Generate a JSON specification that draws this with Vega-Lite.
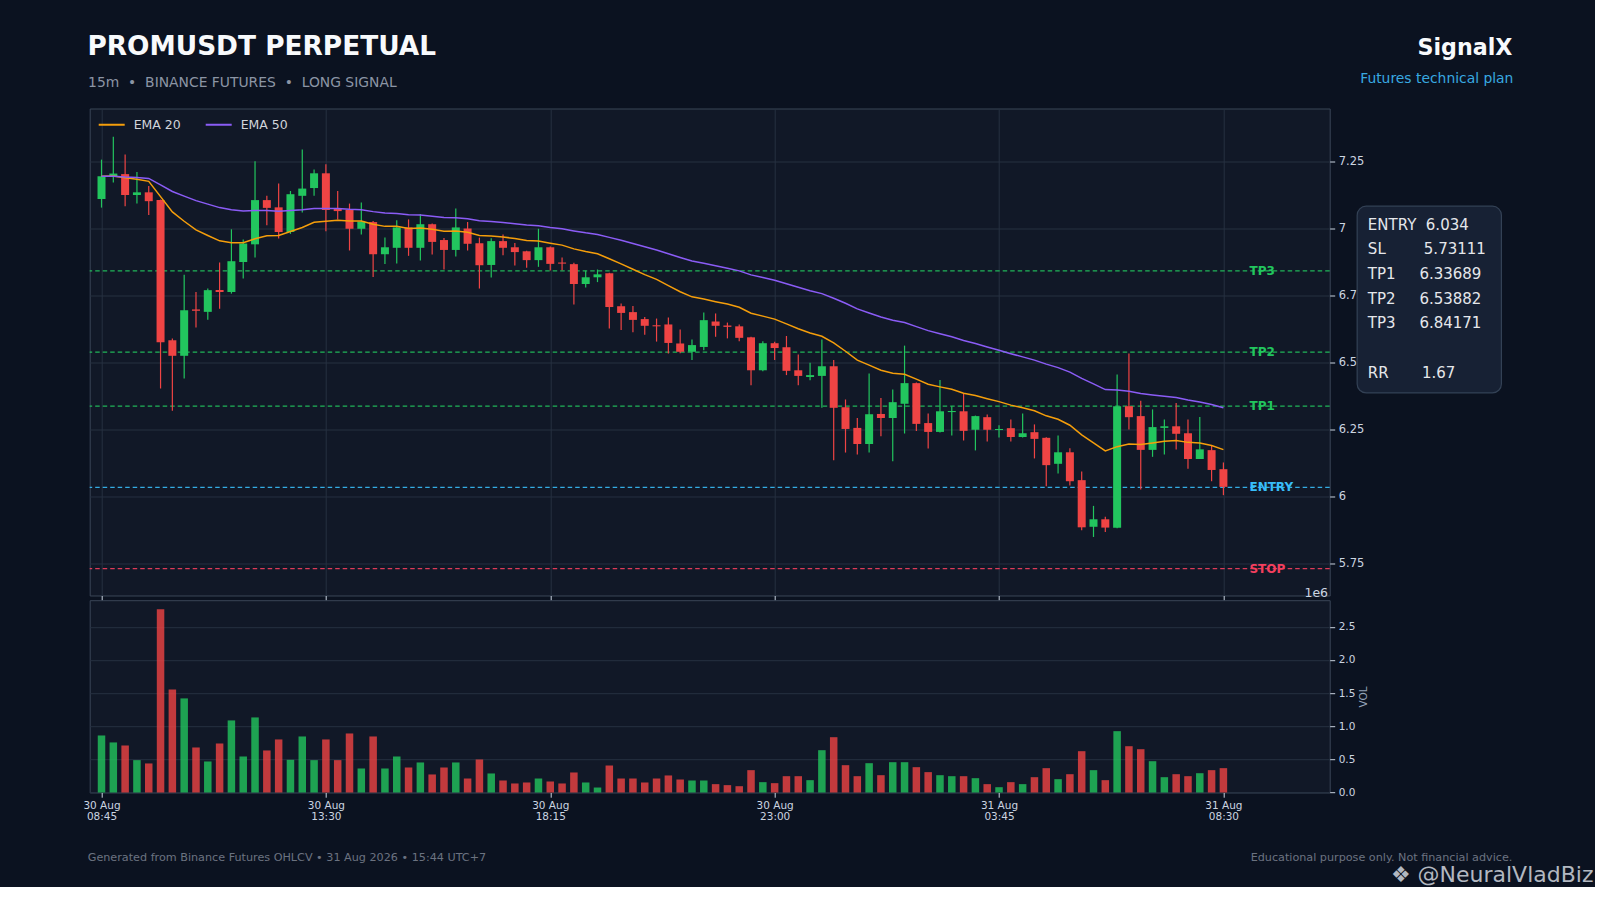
{
"$schema": "https://vega.github.io/schema/vega-lite/v6.json",
"background": "#0b1220",
"padding": {"left": 81.7, "top": 32.5, "right": 0, "bottom": 0},
"bounds": "flush",
"spacing": 4.7,
"resolve": {"scale": {"x": "independent", "y": "independent"}},
"config": {
  "font": "DejaVu Sans",
  "view": {"fill": "#111827", "stroke": "#3b4657", "strokeWidth": 1},
  "axis": {"domain": false, "gridColor": "#263041", "gridWidth": 1, "tickColor": "#cbd5e1", "labelColor": "#cbd5e1", "labelFont": "DejaVu Sans", "titleFont": "DejaVu Sans", "labelOverlap": false}
},
"datasets": {
"k": [
{"t":"2026-08-30T08:45:00","o":7.110,"h":7.257,"l":7.078,"c":7.195,"v":860000,"e20":7.195,"e50":7.195},
{"t":"2026-08-30T09:00:00","o":7.193,"h":7.342,"l":7.172,"c":7.205,"v":755000,"e20":7.196,"e50":7.195},
{"t":"2026-08-30T09:15:00","o":7.203,"h":7.276,"l":7.083,"c":7.125,"v":709000,"e20":7.189,"e50":7.192},
{"t":"2026-08-30T09:30:00","o":7.125,"h":7.211,"l":7.093,"c":7.135,"v":488000,"e20":7.184,"e50":7.190},
{"t":"2026-08-30T09:45:00","o":7.135,"h":7.159,"l":7.050,"c":7.102,"v":438000,"e20":7.176,"e50":7.187},
{"t":"2026-08-30T10:00:00","o":7.106,"h":7.108,"l":6.403,"c":6.576,"v":2762000,"e20":7.119,"e50":7.163},
{"t":"2026-08-30T10:15:00","o":6.583,"h":6.590,"l":6.320,"c":6.525,"v":1554000,"e20":7.062,"e50":7.138},
{"t":"2026-08-30T10:30:00","o":6.525,"h":6.827,"l":6.440,"c":6.695,"v":1419000,"e20":7.027,"e50":7.121},
{"t":"2026-08-30T10:45:00","o":6.698,"h":6.763,"l":6.631,"c":6.693,"v":679000,"e20":6.995,"e50":7.104},
{"t":"2026-08-30T11:00:00","o":6.689,"h":6.776,"l":6.660,"c":6.770,"v":468000,"e20":6.974,"e50":7.091},
{"t":"2026-08-30T11:15:00","o":6.771,"h":6.873,"l":6.701,"c":6.763,"v":739000,"e20":6.954,"e50":7.078},
{"t":"2026-08-30T11:30:00","o":6.763,"h":6.997,"l":6.757,"c":6.878,"v":1087000,"e20":6.947,"e50":7.070},
{"t":"2026-08-30T11:45:00","o":6.875,"h":6.959,"l":6.813,"c":6.944,"v":543000,"e20":6.947,"e50":7.065},
{"t":"2026-08-30T12:00:00","o":6.941,"h":7.251,"l":6.892,"c":7.106,"v":1132000,"e20":6.962,"e50":7.067},
{"t":"2026-08-30T12:15:00","o":7.106,"h":7.122,"l":7.012,"c":7.077,"v":634000,"e20":6.973,"e50":7.067},
{"t":"2026-08-30T12:30:00","o":7.079,"h":7.168,"l":6.963,"c":6.987,"v":800000,"e20":6.974,"e50":7.064},
{"t":"2026-08-30T12:45:00","o":6.987,"h":7.140,"l":6.980,"c":7.128,"v":493000,"e20":6.989,"e50":7.067},
{"t":"2026-08-30T13:00:00","o":7.122,"h":7.295,"l":7.060,"c":7.149,"v":845000,"e20":7.004,"e50":7.070},
{"t":"2026-08-30T13:15:00","o":7.151,"h":7.220,"l":7.122,"c":7.206,"v":488000,"e20":7.023,"e50":7.075},
{"t":"2026-08-30T13:30:00","o":7.206,"h":7.240,"l":6.990,"c":7.069,"v":800000,"e20":7.027,"e50":7.075},
{"t":"2026-08-30T13:45:00","o":7.076,"h":7.140,"l":7.034,"c":7.065,"v":488000,"e20":7.031,"e50":7.075},
{"t":"2026-08-30T14:00:00","o":7.069,"h":7.093,"l":6.918,"c":6.999,"v":890000,"e20":7.028,"e50":7.072},
{"t":"2026-08-30T14:15:00","o":6.999,"h":7.097,"l":6.978,"c":7.026,"v":362000,"e20":7.028,"e50":7.070},
{"t":"2026-08-30T14:30:00","o":7.024,"h":7.028,"l":6.819,"c":6.904,"v":845000,"e20":7.016,"e50":7.063},
{"t":"2026-08-30T14:45:00","o":6.904,"h":6.966,"l":6.868,"c":6.930,"v":362000,"e20":7.008,"e50":7.058},
{"t":"2026-08-30T15:00:00","o":6.928,"h":7.031,"l":6.869,"c":7.004,"v":543000,"e20":7.008,"e50":7.056},
{"t":"2026-08-30T15:15:00","o":7.004,"h":7.034,"l":6.898,"c":6.928,"v":377000,"e20":7.000,"e50":7.051},
{"t":"2026-08-30T15:30:00","o":6.928,"h":7.054,"l":6.881,"c":7.016,"v":453000,"e20":7.002,"e50":7.050},
{"t":"2026-08-30T15:45:00","o":7.016,"h":7.019,"l":6.903,"c":6.950,"v":272000,"e20":6.997,"e50":7.046},
{"t":"2026-08-30T16:00:00","o":6.957,"h":6.965,"l":6.847,"c":6.920,"v":377000,"e20":6.990,"e50":7.041},
{"t":"2026-08-30T16:15:00","o":6.920,"h":7.075,"l":6.896,"c":7.004,"v":453000,"e20":6.991,"e50":7.040},
{"t":"2026-08-30T16:30:00","o":7.000,"h":7.024,"l":6.918,"c":6.943,"v":211000,"e20":6.986,"e50":7.036},
{"t":"2026-08-30T16:45:00","o":6.945,"h":6.966,"l":6.776,"c":6.863,"v":498000,"e20":6.974,"e50":7.029},
{"t":"2026-08-30T17:00:00","o":6.864,"h":6.964,"l":6.817,"c":6.953,"v":287000,"e20":6.972,"e50":7.026},
{"t":"2026-08-30T17:15:00","o":6.953,"h":6.978,"l":6.900,"c":6.928,"v":181000,"e20":6.968,"e50":7.022},
{"t":"2026-08-30T17:30:00","o":6.930,"h":6.946,"l":6.862,"c":6.912,"v":136000,"e20":6.963,"e50":7.018},
{"t":"2026-08-30T17:45:00","o":6.915,"h":6.917,"l":6.854,"c":6.882,"v":151000,"e20":6.955,"e50":7.013},
{"t":"2026-08-30T18:00:00","o":6.882,"h":6.999,"l":6.857,"c":6.930,"v":211000,"e20":6.953,"e50":7.010},
{"t":"2026-08-30T18:15:00","o":6.930,"h":6.933,"l":6.843,"c":6.868,"v":166000,"e20":6.945,"e50":7.004},
{"t":"2026-08-30T18:30:00","o":6.873,"h":6.892,"l":6.844,"c":6.869,"v":136000,"e20":6.938,"e50":6.999},
{"t":"2026-08-30T18:45:00","o":6.867,"h":6.872,"l":6.716,"c":6.793,"v":302000,"e20":6.924,"e50":6.991},
{"t":"2026-08-30T19:00:00","o":6.793,"h":6.842,"l":6.780,"c":6.818,"v":151000,"e20":6.914,"e50":6.984},
{"t":"2026-08-30T19:15:00","o":6.818,"h":6.847,"l":6.800,"c":6.829,"v":75000,"e20":6.906,"e50":6.978},
{"t":"2026-08-30T19:30:00","o":6.833,"h":6.835,"l":6.627,"c":6.707,"v":407000,"e20":6.887,"e50":6.967},
{"t":"2026-08-30T19:45:00","o":6.710,"h":6.720,"l":6.621,"c":6.685,"v":211000,"e20":6.868,"e50":6.956},
{"t":"2026-08-30T20:00:00","o":6.688,"h":6.711,"l":6.613,"c":6.659,"v":211000,"e20":6.848,"e50":6.944},
{"t":"2026-08-30T20:15:00","o":6.662,"h":6.670,"l":6.604,"c":6.637,"v":151000,"e20":6.828,"e50":6.932},
{"t":"2026-08-30T20:30:00","o":6.639,"h":6.664,"l":6.578,"c":6.635,"v":211000,"e20":6.810,"e50":6.920},
{"t":"2026-08-30T20:45:00","o":6.642,"h":6.668,"l":6.534,"c":6.573,"v":257000,"e20":6.787,"e50":6.906},
{"t":"2026-08-30T21:00:00","o":6.571,"h":6.623,"l":6.535,"c":6.540,"v":196000,"e20":6.764,"e50":6.892},
{"t":"2026-08-30T21:15:00","o":6.540,"h":6.586,"l":6.509,"c":6.565,"v":181000,"e20":6.745,"e50":6.879},
{"t":"2026-08-30T21:30:00","o":6.558,"h":6.687,"l":6.546,"c":6.658,"v":181000,"e20":6.737,"e50":6.870},
{"t":"2026-08-30T21:45:00","o":6.653,"h":6.683,"l":6.596,"c":6.637,"v":126000,"e20":6.727,"e50":6.861},
{"t":"2026-08-30T22:00:00","o":6.638,"h":6.649,"l":6.590,"c":6.633,"v":111000,"e20":6.718,"e50":6.852},
{"t":"2026-08-30T22:15:00","o":6.635,"h":6.642,"l":6.579,"c":6.592,"v":95000,"e20":6.706,"e50":6.842},
{"t":"2026-08-30T22:30:00","o":6.594,"h":6.596,"l":6.415,"c":6.471,"v":337000,"e20":6.684,"e50":6.827},
{"t":"2026-08-30T22:45:00","o":6.471,"h":6.579,"l":6.467,"c":6.572,"v":156000,"e20":6.673,"e50":6.817},
{"t":"2026-08-30T23:00:00","o":6.572,"h":6.577,"l":6.509,"c":6.554,"v":141000,"e20":6.662,"e50":6.807},
{"t":"2026-08-30T23:15:00","o":6.557,"h":6.599,"l":6.453,"c":6.469,"v":246000,"e20":6.644,"e50":6.794},
{"t":"2026-08-30T23:30:00","o":6.471,"h":6.530,"l":6.415,"c":6.450,"v":246000,"e20":6.626,"e50":6.781},
{"t":"2026-08-30T23:45:00","o":6.446,"h":6.499,"l":6.434,"c":6.453,"v":186000,"e20":6.610,"e50":6.768},
{"t":"2026-08-31T00:00:00","o":6.450,"h":6.586,"l":6.331,"c":6.486,"v":638000,"e20":6.598,"e50":6.757},
{"t":"2026-08-31T00:15:00","o":6.486,"h":6.509,"l":6.135,"c":6.331,"v":834000,"e20":6.573,"e50":6.740},
{"t":"2026-08-31T00:30:00","o":6.333,"h":6.362,"l":6.164,"c":6.252,"v":412000,"e20":6.542,"e50":6.721},
{"t":"2026-08-31T00:45:00","o":6.256,"h":6.293,"l":6.157,"c":6.196,"v":246000,"e20":6.509,"e50":6.700},
{"t":"2026-08-31T01:00:00","o":6.196,"h":6.459,"l":6.164,"c":6.307,"v":442000,"e20":6.490,"e50":6.685},
{"t":"2026-08-31T01:15:00","o":6.308,"h":6.368,"l":6.225,"c":6.293,"v":261000,"e20":6.471,"e50":6.670},
{"t":"2026-08-31T01:30:00","o":6.293,"h":6.399,"l":6.132,"c":6.352,"v":457000,"e20":6.460,"e50":6.658},
{"t":"2026-08-31T01:45:00","o":6.346,"h":6.563,"l":6.235,"c":6.423,"v":457000,"e20":6.456,"e50":6.649},
{"t":"2026-08-31T02:00:00","o":6.423,"h":6.425,"l":6.244,"c":6.271,"v":382000,"e20":6.438,"e50":6.634},
{"t":"2026-08-31T02:15:00","o":6.274,"h":6.310,"l":6.179,"c":6.241,"v":307000,"e20":6.419,"e50":6.619},
{"t":"2026-08-31T02:30:00","o":6.241,"h":6.435,"l":6.239,"c":6.318,"v":261000,"e20":6.409,"e50":6.607},
{"t":"2026-08-31T02:45:00","o":6.315,"h":6.337,"l":6.228,"c":6.319,"v":246000,"e20":6.400,"e50":6.596},
{"t":"2026-08-31T03:00:00","o":6.318,"h":6.384,"l":6.209,"c":6.245,"v":246000,"e20":6.385,"e50":6.582},
{"t":"2026-08-31T03:15:00","o":6.249,"h":6.302,"l":6.172,"c":6.300,"v":216000,"e20":6.377,"e50":6.571},
{"t":"2026-08-31T03:30:00","o":6.296,"h":6.306,"l":6.205,"c":6.249,"v":126000,"e20":6.365,"e50":6.558},
{"t":"2026-08-31T03:45:00","o":6.248,"h":6.266,"l":6.220,"c":6.252,"v":80000,"e20":6.354,"e50":6.546},
{"t":"2026-08-31T04:00:00","o":6.255,"h":6.287,"l":6.205,"c":6.222,"v":156000,"e20":6.341,"e50":6.533},
{"t":"2026-08-31T04:15:00","o":6.222,"h":6.310,"l":6.220,"c":6.236,"v":126000,"e20":6.331,"e50":6.521},
{"t":"2026-08-31T04:30:00","o":6.240,"h":6.269,"l":6.142,"c":6.215,"v":231000,"e20":6.320,"e50":6.509},
{"t":"2026-08-31T04:45:00","o":6.219,"h":6.221,"l":6.038,"c":6.117,"v":367000,"e20":6.301,"e50":6.494},
{"t":"2026-08-31T05:00:00","o":6.122,"h":6.228,"l":6.086,"c":6.165,"v":201000,"e20":6.288,"e50":6.481},
{"t":"2026-08-31T05:15:00","o":6.165,"h":6.180,"l":6.041,"c":6.057,"v":276000,"e20":6.266,"e50":6.464},
{"t":"2026-08-31T05:30:00","o":6.061,"h":6.093,"l":5.874,"c":5.885,"v":623000,"e20":6.230,"e50":6.441},
{"t":"2026-08-31T05:45:00","o":5.887,"h":5.965,"l":5.849,"c":5.915,"v":337000,"e20":6.200,"e50":6.420},
{"t":"2026-08-31T06:00:00","o":5.915,"h":5.924,"l":5.868,"c":5.884,"v":186000,"e20":6.170,"e50":6.399},
{"t":"2026-08-31T06:15:00","o":5.883,"h":6.455,"l":5.882,"c":6.337,"v":925000,"e20":6.186,"e50":6.397},
{"t":"2026-08-31T06:30:00","o":6.337,"h":6.534,"l":6.250,"c":6.296,"v":698000,"e20":6.196,"e50":6.393},
{"t":"2026-08-31T06:45:00","o":6.300,"h":6.357,"l":6.026,"c":6.174,"v":653000,"e20":6.194,"e50":6.384},
{"t":"2026-08-31T07:00:00","o":6.174,"h":6.325,"l":6.148,"c":6.259,"v":472000,"e20":6.200,"e50":6.379},
{"t":"2026-08-31T07:15:00","o":6.256,"h":6.287,"l":6.157,"c":6.262,"v":231000,"e20":6.206,"e50":6.374},
{"t":"2026-08-31T07:30:00","o":6.262,"h":6.349,"l":6.175,"c":6.234,"v":276000,"e20":6.209,"e50":6.369},
{"t":"2026-08-31T07:45:00","o":6.236,"h":6.287,"l":6.104,"c":6.140,"v":246000,"e20":6.202,"e50":6.360},
{"t":"2026-08-31T08:00:00","o":6.140,"h":6.297,"l":6.140,"c":6.176,"v":291000,"e20":6.200,"e50":6.353},
{"t":"2026-08-31T08:15:00","o":6.173,"h":6.191,"l":6.057,"c":6.099,"v":337000,"e20":6.190,"e50":6.343},
{"t":"2026-08-31T08:30:00","o":6.102,"h":6.127,"l":6.005,"c":6.036,"v":367000,"e20":6.175,"e50":6.331}
],
"lv": [
{"name":"TP3","p":6.84171},
{"name":"TP2","p":6.53882},
{"name":"TP1","p":6.33689},
{"name":"ENTRY","p":6.034},
{"name":"STOP","p":5.73111}
]
},
"vconcat": [
{
"width": 1240, "height": 487,
"layer": [
{
"data": {"name": "lv"},
"mark": {"type": "rule", "strokeDash": [4.5, 3], "strokeWidth": 1.3, "opacity": 0.9},
"encoding": {
 "y": {"field": "p", "type": "quantitative", "title": null,
   "scale": {"domain": [5.6306, 7.4478], "nice": false, "zero": false},
   "axis": {"orient": "right", "values": [5.75, 6, 6.25, 6.5, 6.75, 7, 7.25], "format": ".2~f", "labelFontSize": 11.5, "tickSize": 5, "labelPadding": 3.5, "grid": true, "title": null}},
 "stroke": {"field": "name", "type": "nominal", "legend": null,
   "scale": {"domain": ["TP1","TP2","TP3","ENTRY","STOP"], "range": ["#22c55e","#22c55e","#22c55e","#38bdf8","#f43f5e"]}}
}
},
{
"data": {"name": "k"},
"mark": {"type": "rule", "strokeWidth": 1.2},
"encoding": {
 "x": {"field": "t", "type": "temporal", "title": null,
   "scale": {"domain": [{"year":2026,"month":8,"date":30,"hours":8,"minutes":30}, {"year":2026,"month":8,"date":31,"hours":10,"minutes":45}], "padding": 0},
   "axis": {"values": [{"year":2026,"month":8,"date":30,"hours":8,"minutes":45},{"year":2026,"month":8,"date":30,"hours":13,"minutes":30},{"year":2026,"month":8,"date":30,"hours":18,"minutes":15},{"year":2026,"month":8,"date":30,"hours":23,"minutes":0},{"year":2026,"month":8,"date":31,"hours":3,"minutes":45},{"year":2026,"month":8,"date":31,"hours":8,"minutes":30}], "labels": false, "ticks": true, "tickSize": 4.7, "grid": true, "title": null}},
 "y": {"field": "l", "type": "quantitative", "title": null, "scale": {"domain": [5.6306, 7.4478], "nice": false, "zero": false}},
 "y2": {"field": "h"},
 "color": {"condition": {"test": "datum.c >= datum.o", "value": "#22c55e"}, "value": "#ef4444"}
}
},
{
"data": {"name": "k"},
"mark": {"type": "bar", "width": 8},
"encoding": {
 "x": {"field": "t", "type": "temporal", "title": null,
   "scale": {"domain": [{"year":2026,"month":8,"date":30,"hours":8,"minutes":30}, {"year":2026,"month":8,"date":31,"hours":10,"minutes":45}], "padding": 0}},
 "y": {"field": "o", "type": "quantitative", "title": null, "scale": {"domain": [5.6306, 7.4478], "nice": false, "zero": false}},
 "y2": {"field": "c"},
 "color": {"condition": {"test": "datum.c >= datum.o", "value": "#22c55e"}, "value": "#ef4444"}
}
},
{
"data": {"name": "k"},
"mark": {"type": "line", "strokeWidth": 1.5},
"encoding": {
 "x": {"field": "t", "type": "temporal", "title": null,
   "scale": {"domain": [{"year":2026,"month":8,"date":30,"hours":8,"minutes":30}, {"year":2026,"month":8,"date":31,"hours":10,"minutes":45}], "padding": 0}},
 "y": {"field": "e20", "type": "quantitative", "title": null, "scale": {"domain": [5.6306, 7.4478], "nice": false, "zero": false}},
 "color": {"datum": "EMA 20", "type": "nominal",
   "scale": {"domain": ["EMA 20", "EMA 50"], "range": ["#f59e0b", "#8b5cf6"]},
   "legend": {"orient": "none", "legendX": 8, "legendY": 2, "direction": "horizontal", "title": null, "symbolType": "stroke", "symbolSize": 676, "symbolStrokeWidth": 2, "labelFontSize": 12.5, "labelColor": "#d1d5db", "labelOffset": 8, "columnPadding": 20, "padding": 0}}
}
},
{
"data": {"name": "k"},
"mark": {"type": "line", "strokeWidth": 1.5},
"encoding": {
 "x": {"field": "t", "type": "temporal", "title": null,
   "scale": {"domain": [{"year":2026,"month":8,"date":30,"hours":8,"minutes":30}, {"year":2026,"month":8,"date":31,"hours":10,"minutes":45}], "padding": 0}},
 "y": {"field": "e50", "type": "quantitative", "title": null, "scale": {"domain": [5.6306, 7.4478], "nice": false, "zero": false}},
 "color": {"datum": "EMA 50", "type": "nominal"}
}
},
{
"data": {"name": "lv"},
"mark": {"type": "text", "fontWeight": "bold", "fontSize": 12, "align": "left", "baseline": "middle"},
"encoding": {
 "x": {"datum": {"year":2026,"month":8,"date":31,"hours":9,"minutes":3,"seconds":6}, "type": "temporal", "title": null},
 "y": {"field": "p", "type": "quantitative", "title": null},
 "text": {"field": "name"},
 "fill": {"field": "name", "type": "nominal", "legend": null,
   "scale": {"domain": ["TP1","TP2","TP3","ENTRY","STOP"], "range": ["#22c55e","#22c55e","#22c55e","#38bdf8","#f43f5e"]}}
}
},
{
"data": {"values": [{"x": "2026-08-31T11:19:54", "x2": "2026-08-31T14:23:06", "y": 7.0832, "y2": 6.3866}]},
"mark": {"type": "rect", "cornerRadius": 9, "fill": "#172134", "stroke": "#334155", "strokeWidth": 1.2},
"encoding": {
 "x": {"field": "x", "type": "temporal", "title": null}, "x2": {"field": "x2"},
 "y": {"field": "y", "type": "quantitative", "title": null}, "y2": {"field": "y2"}
}
},
{
"data": {"values": [{"x": "2026-08-31T11:33:30", "y": 7.041, "txt": "ENTRY\u00a0\u00a06.034\nSL\u00a0\u00a0\u00a0\u00a0\u00a0\u00a0\u00a0\u00a05.73111\nTP1\u00a0\u00a0\u00a0\u00a0\u00a06.33689\nTP2\u00a0\u00a0\u00a0\u00a0\u00a06.53882\nTP3\u00a0\u00a0\u00a0\u00a0\u00a06.84171"}, {"x": "2026-08-31T11:33:30", "y": 6.488, "txt": "RR\u00a0\u00a0\u00a0\u00a0\u00a0\u00a0\u00a01.67"}]},
"mark": {"type": "text", "lineBreak": "\n", "lineHeight": 24.7, "fontSize": 15, "fill": "#e5e7eb", "align": "left", "baseline": "top"},
"encoding": {
 "x": {"field": "x", "type": "temporal", "title": null},
 "y": {"field": "y", "type": "quantitative", "title": null},
 "text": {"field": "txt"}
}
},
{
"data": {"values": [{"x": "2026-08-30T08:27:05", "y": 7.6493, "txt": "PROMUSDT PERPETUAL"}]},
"mark": {"type": "text", "fontSize": 26.4, "fontWeight": "bold", "fill": "#f8fafc", "align": "left", "baseline": "alphabetic"},
"encoding": {"x": {"field": "x", "type": "temporal", "title": null}, "y": {"field": "y", "type": "quantitative", "title": null}, "text": {"field": "txt"}}
},
{
"data": {"values": [{"x": "2026-08-30T08:28:00", "y": 7.5299, "txt": "15m\u00a0\u00a0•\u00a0\u00a0BINANCE FUTURES\u00a0\u00a0•\u00a0\u00a0LONG SIGNAL"}]},
"mark": {"type": "text", "fontSize": 13.9, "fill": "#8b95a5", "align": "left", "baseline": "alphabetic"},
"encoding": {"x": {"field": "x", "type": "temporal", "title": null}, "y": {"field": "y", "type": "quantitative", "title": null}, "text": {"field": "txt"}}
},
{
"data": {"values": [{"x": "2026-08-31T14:37:06", "y": 7.6493, "txt": "SignalX"}]},
"mark": {"type": "text", "fontSize": 22.2, "fontWeight": "bold", "fill": "#f8fafc", "align": "right", "baseline": "alphabetic"},
"encoding": {"x": {"field": "x", "type": "temporal", "title": null}, "y": {"field": "y", "type": "quantitative", "title": null}, "text": {"field": "txt"}}
},
{
"data": {"values": [{"x": "2026-08-31T14:38:20", "y": 7.5411, "txt": "Futures technical plan"}]},
"mark": {"type": "text", "fontSize": 13.9, "fill": "#38a9e0", "align": "right", "baseline": "alphabetic"},
"encoding": {"x": {"field": "x", "type": "temporal", "title": null}, "y": {"field": "y", "type": "quantitative", "title": null}, "text": {"field": "txt"}}
}
]
},
{
"width": 1240, "height": 192.3,
"layer": [
{
"data": {"name": "k"},
"mark": {"type": "bar", "width": 7.5, "opacity": 0.8},
"encoding": {
 "x": {"field": "t", "type": "temporal", "title": null,
   "scale": {"domain": [{"year":2026,"month":8,"date":30,"hours":8,"minutes":30}, {"year":2026,"month":8,"date":31,"hours":10,"minutes":45}], "padding": 0},
   "axis": {"values": [{"year":2026,"month":8,"date":30,"hours":8,"minutes":45},{"year":2026,"month":8,"date":30,"hours":13,"minutes":30},{"year":2026,"month":8,"date":30,"hours":18,"minutes":15},{"year":2026,"month":8,"date":30,"hours":23,"minutes":0},{"year":2026,"month":8,"date":31,"hours":3,"minutes":45},{"year":2026,"month":8,"date":31,"hours":8,"minutes":30}],
     "labelExpr": "[timeFormat(datum.value, '%d %b'), timeFormat(datum.value, '%H:%M')]", "labelFontSize": 10.5, "labelLineHeight": 11.5, "tickSize": 4.7, "labelPadding": 3, "grid": false, "title": null}},
 "y": {"field": "v", "type": "quantitative",
   "scale": {"domain": [0, 2900000], "nice": false, "zero": true},
   "axis": {"orient": "right", "values": [0, 500000, 1000000, 1500000, 2000000, 2500000], "tickCount": 6, "labelOverlap": false, "labelExpr": "format(datum.value / 1000000, '.1f')", "labelFontSize": 10.5, "tickSize": 5, "labelPadding": 3.5, "grid": true, "title": "VOL", "titleColor": "#94a3b8", "titleFontSize": 10.5, "titleFontWeight": "normal", "titleAngle": 270, "titleBaseline": "top", "titlePadding": 4}},
 "color": {"condition": {"test": "datum.c >= datum.o", "value": "#22c55e"}, "value": "#ef4444"}
}
},
{
"data": {"values": [{"x": "2026-08-31T10:42:54", "y": 2949000, "txt": "1e6"}]},
"mark": {"type": "text", "fontSize": 12.5, "fill": "#cbd5e1", "align": "right", "baseline": "alphabetic"},
"encoding": {"x": {"field": "x", "type": "temporal"}, "y": {"field": "y", "type": "quantitative"}, "text": {"field": "txt"}}
},
{
"data": {"values": [{"x": "2026-08-30T08:27:30", "y": -981000, "txt": "Generated from Binance Futures OHLCV • 31 Aug 2026 • 15:44 UTC+7"}]},
"mark": {"type": "text", "fontSize": 11.2, "fill": "#6b7280", "align": "left", "baseline": "middle"},
"encoding": {"x": {"field": "x", "type": "temporal"}, "y": {"field": "y", "type": "quantitative"}, "text": {"field": "txt"}}
},
{
"data": {"values": [{"x": "2026-08-31T14:37:00", "y": -981000, "txt": "Educational purpose only. Not financial advice."}]},
"mark": {"type": "text", "fontSize": 11.2, "fill": "#6b7280", "align": "right", "baseline": "middle"},
"encoding": {"x": {"field": "x", "type": "temporal"}, "y": {"field": "y", "type": "quantitative"}, "text": {"field": "txt"}}
},
{
"data": {"values": [{"x": "2026-08-31T16:20:00", "y": -1242000, "txt": "❖ @NeuralVladBiz"}]},
"mark": {"type": "text", "fontSize": 22, "fill": "#c5cad3", "opacity": 0.9, "align": "right", "baseline": "middle"},
"encoding": {"x": {"field": "x", "type": "temporal"}, "y": {"field": "y", "type": "quantitative"}, "text": {"field": "txt"}}
}
]
}
]
}
